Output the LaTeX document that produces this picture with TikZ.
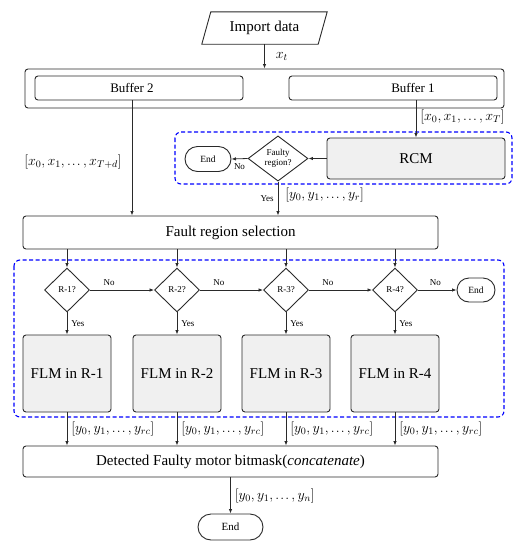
\RequirePackage{fix-cm}
\documentclass[tikz,border=0pt]{standalone}
\usepackage{fontspec}
\setmainfont{Liberation Serif}
\usetikzlibrary{arrows.meta,shapes.geometric,shapes.misc}
\definecolor{boxfill}{HTML}{F0F0F0}
\definecolor{edge}{HTML}{2A2A2A}
\newcommand{\tdots}{\mathinner{\ldotp\mkern-1.5mu\ldotp\mkern-1.5mu\ldotp}}
\tikzset{
  arr/.style={-{Latex[length=4.5pt,width=3.5pt]},line width=0.8pt,draw=edge},
  plainbox/.style={draw=edge,line width=0.9pt,rounded corners=3pt,inner sep=0pt},
  graybox/.style={plainbox,fill=boxfill},
  term/.style={draw=edge,line width=0.9pt,rounded rectangle,inner sep=0pt,font=\fontsize{9.5}{11}\selectfont},
  dec/.style={draw=edge,line width=0.9pt,diamond,inner sep=0pt,font=\fontsize{9}{10}\selectfont,align=center},
  grp/.style={draw=blue,dashed,line width=1.1pt,rounded corners=6pt,dash pattern=on 4pt off 2.5pt},
  small/.style={font=\fontsize{9}{10}\selectfont,inner sep=1pt},
  mlab/.style={font=\fontsize{14}{16}\selectfont,inner sep=1pt},
  big/.style={font=\fontsize{15}{17}\selectfont},
}
\begin{document}
\begin{tikzpicture}[x=1pt,y=-1pt]
\path[use as bounding box,fill=white] (0,0) rectangle (521,550);

% groups
\draw[grp] (175,132) rectangle (512,184);
\draw[grp] (14,260) rectangle (504,417);

% import data
\node[big,minimum width=116pt,minimum height=32pt,inner sep=0pt] (imp) at (264.5,28) {Import data};
\draw[edge,line width=0.9pt] ([xshift=4.5pt]imp.north west) -- ([xshift=4.5pt]imp.north east)
  -- ([xshift=-4.5pt]imp.south east) -- ([xshift=-4.5pt]imp.south west) -- cycle;

% buffers
\node[plainbox,minimum width=479pt,minimum height=39pt] (bufo) at (264.5,88.5) {};
\node[plainbox,minimum width=208pt,minimum height=24pt,font=\fontsize{13}{15}\selectfont] (buf2) at (139,88) {Buffer 2\hspace*{14pt}};
\node[plainbox,minimum width=208pt,minimum height=24pt,font=\fontsize{13}{15}\selectfont] (buf1) at (393,88) {\hspace*{40pt}Buffer 1};

\draw[arr] (imp.south) -- (bufo.north) node[midway,right=10pt,mlab] {$x_t$};

% RCM part
\node[graybox,minimum width=178pt,minimum height=41pt,big] (rcm) at (416,158.5) {RCM};
\node[dec,minimum width=60pt,minimum height=43pt] (fr) at (278,158.5) {Faulty\\region?};
\node[term,minimum width=46pt,minimum height=25pt] (end1) at (208,159) {End};

\draw[arr] (buf1.south -| rcm.north) -- (rcm.north)
  node[pos=0.45,right=3pt,mlab] {$[x_0,x_1,\tdots,x_T]$};
\draw[arr] (rcm.west) -- (fr.east);
\draw[arr] (fr.west) -- (end1.east) node[midway,below=3pt,small] {No};

% fault region selection
\node[plainbox,minimum width=415pt,minimum height=33pt,big] (frs) at (230.5,232.5) {Fault region selection};

\draw[arr] ([xshift=-7pt]buf2.south) -- ([xshift=-7pt]buf2.south |- frs.north);
\node[mlab] (lab2) at (73,162) {$[x_0,x_1,\tdots,x_{T+d}]$};
\draw[arr] (fr.south) -- (fr.south |- frs.north)
  node[midway,left=3pt,small] {Yes}
  node[pos=0.4,right=6pt,mlab] {$[y_0,y_1,\tdots,y_r]$};

% region decisions
\foreach \i/\x in {1/67,2/177,3/286,4/395}{
  \node[dec,minimum width=45pt,minimum height=44pt] (r\i) at (\x,290) {R-\i?};
  \node[graybox,minimum width=88pt,minimum height=77pt,big] (flm\i) at (\x,373.5) {FLM in R-\i};
  \draw[arr] (frs.south -| r\i.north) -- (r\i.north);
  \draw[arr] (r\i.south) -- (flm\i.north) node[midway,right=3pt,small] {Yes};
}
\node[term,minimum width=38pt,minimum height=24pt] (end2) at (476,290) {End};
\draw[arr] (r1.east) -- (r2.west) node[pos=0.3,above=3pt,small] {No};
\draw[arr] (r2.east) -- (r3.west) node[pos=0.3,above=3pt,small] {No};
\draw[arr] (r3.east) -- (r4.west) node[pos=0.3,above=3pt,small] {No};
\draw[arr] (r4.east) -- (end2.west) node[pos=0.45,above=3pt,small] {No};

% detected
\node[plainbox,minimum width=415pt,minimum height=31pt,big] (det) at (230.5,461.5) {Detected Faulty motor bitmask(\textit{concatenate})};
\foreach \i in {1,2,3,4}{
  \draw[arr] (flm\i.south) -- (flm\i.south |- det.north)
    node[pos=0.5,right=3pt,mlab] {$[y_0,y_1,\tdots,y_{rc}]$};
}
\node[term,minimum width=65pt,minimum height=26pt,font=\fontsize{11}{13}\selectfont] (end3) at (230.5,527) {End};
\draw[arr] (det.south) -- (end3.north) node[midway,right=3pt,mlab] {$[y_0,y_1,\tdots,y_n]$};
\end{tikzpicture}
\end{document}
